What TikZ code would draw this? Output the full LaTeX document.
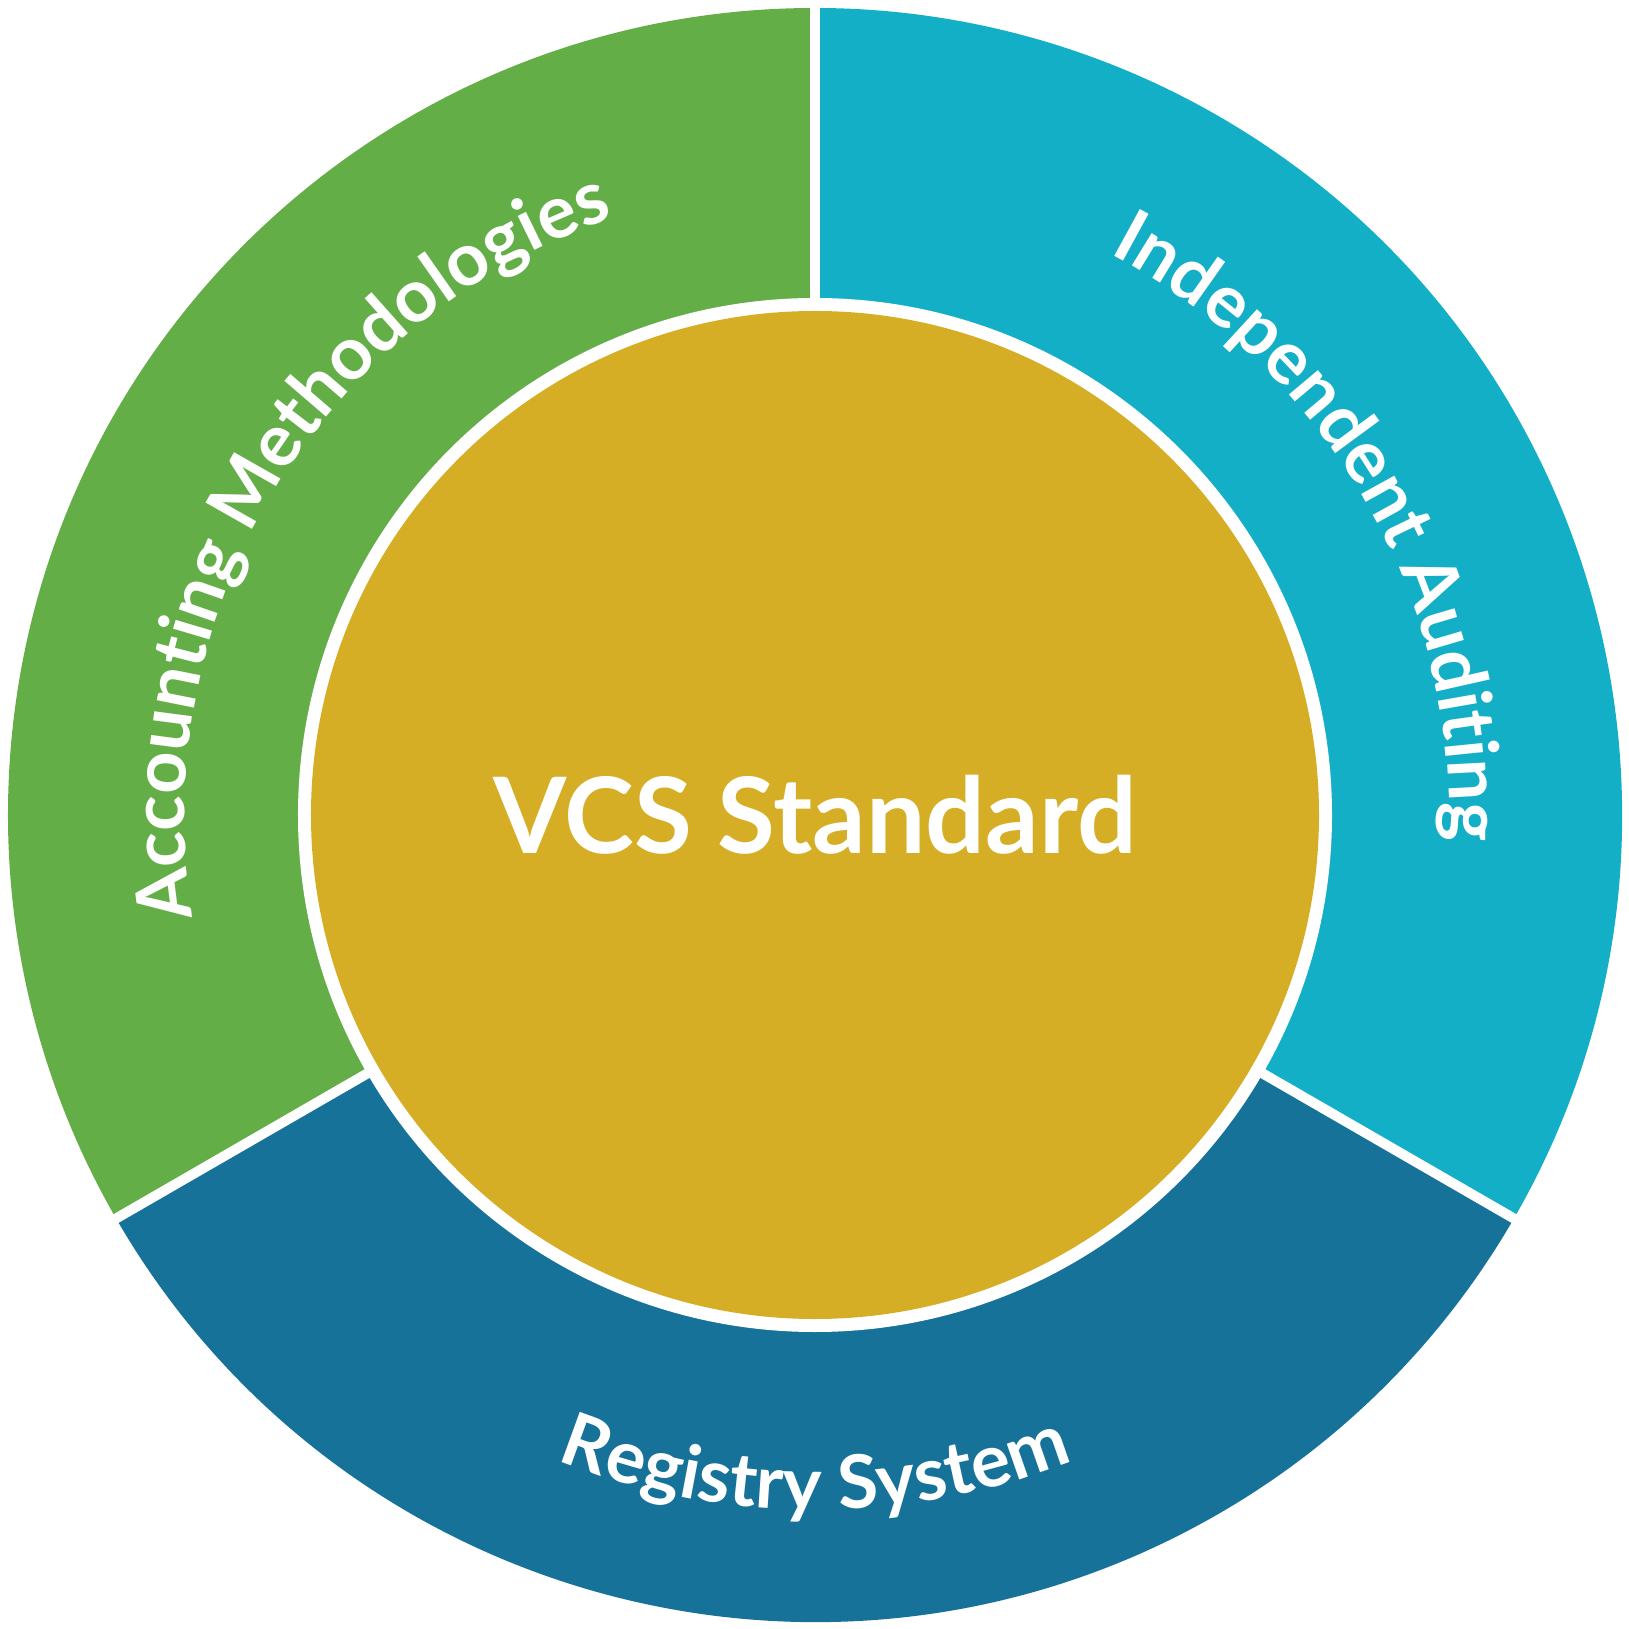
\documentclass[tikz,border=0pt]{standalone}
\usepackage{fontspec}
\setmainfont{Lato}
\usetikzlibrary{decorations.text}

\definecolor{methgreen}{HTML}{64AE47}
\definecolor{auditcyan}{HTML}{12AFC6}
\definecolor{registryblue}{HTML}{177299}
\definecolor{coregold}{HTML}{D6AE26}
\newcommand{\ringfont}{\fontsize{21}{24}\selectfont\bfseries}

\begin{document}
\begin{tikzpicture}[
    % ring segments and labels
    sepline/.style={draw=white, line width=0.1cm},
    ringlabel/.style={decorate, decoration={text along path, text align=center, text color=white}}
]
\useasboundingbox (-8.15,-8.14) rectangle (8.14,8.15);

% Outer ring segments
\fill[methgreen] (0,0) -- (90:8.07) arc (90:210:8.07) -- cycle;
\fill[registryblue] (0,0) -- (210:8.07) arc (210:330:8.07) -- cycle;
\fill[auditcyan] (0,0) -- (330:8.07) arc (-30:90:8.07) -- cycle;

% Separators
\draw[sepline] (0,0) -- (90:8.2);
\draw[sepline] (0,0) -- (210:8.2);
\draw[sepline] (0,0) -- (330:8.2);

% Core
\fill[white] (0,0) circle (5.17);
\node[circle, fill=coregold, minimum size=10.08cm, inner sep=0pt, text=white,
      font=\fontsize{30}{34}\selectfont\bfseries] (core) at (0,0) {VCS Standard};

% Ring labels
\path[ringlabel, decoration={text={|\ringfont|Accounting Methodologies}}]
    (199:6.3) arc (199:99:6.3);
\path[ringlabel, decoration={text={|\ringfont|Independent Auditing}}]
    (80:6.34) arc (80:-20:6.34);
\path[ringlabel, decoration={text={|\ringfont|Registry System}}]
    (220:6.95) arc (220:320:6.95);

\end{tikzpicture}
\end{document}
